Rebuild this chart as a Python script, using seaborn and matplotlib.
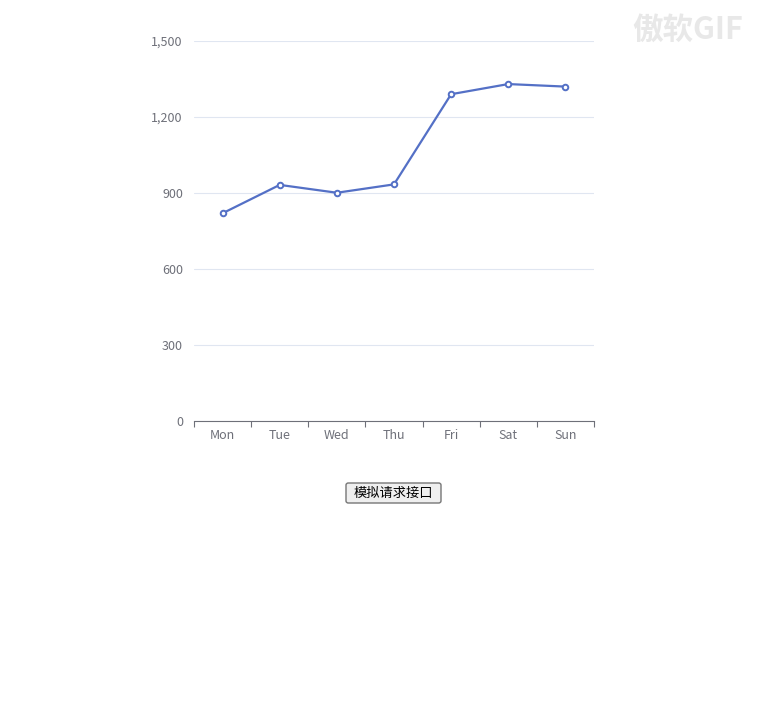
import matplotlib
matplotlib.use("Agg")
import matplotlib.pyplot as plt
import seaborn as sns
import pandas as pd
from matplotlib.patches import FancyBboxPatch

days = ["Mon", "Tue", "Wed", "Thu", "Fri", "Sat", "Sun"]
values = [820, 932, 901, 934, 1290, 1330, 1320]
yticks = [0, 300, 600, 900, 1200, 1500]
ytick_labels = ["0", "300", "600", "900", "1,200", "1,500"]

sns.set_style("white")
plt.rcParams['font.family'] = ['Noto Sans CJK SC', 'DejaVu Sans']

fig = plt.figure(figsize=(7.77, 7.04), dpi=100)
ax = fig.add_axes([194/777, 283/704, 400/777, 380/704])
df = pd.DataFrame({"day": days, "value": values})
x = [i + 0.5 for i in range(len(days))]
sns.lineplot(x=x, y=df["value"], ax=ax, color="#5470c6", linewidth=1.6,
             marker="o", markersize=4, markerfacecolor="white",
             markeredgecolor="#5470c6", markeredgewidth=1.4)
ax.set_xlim(0, 7)
ax.set_ylim(0, 1500)
ax.set_yticks(yticks)
ax.set_yticklabels(ytick_labels, color="#6e7079", fontsize=9)
ax.set_xticks(x)
ax.set_xticklabels(days, color="#6e7079", fontsize=9)
ax.set_xticks(range(8), minor=True)
ax.tick_params(axis="x", which="major", length=0, pad=6)
ax.tick_params(axis="x", which="minor", length=4, width=0.8, color="#6e7079",
               direction="out", bottom=True)
ax.tick_params(axis="y", length=0, pad=8)
ax.grid(axis="y", color="#e0e6f1", linewidth=0.8)
ax.set_axisbelow(True)
for s in ["top", "right", "left"]:
    ax.spines[s].set_visible(False)
ax.spines["bottom"].set_color("#6e7079")
ax.set_xlabel("")
ax.set_ylabel("")

btn = FancyBboxPatch((346/777, 1-503/704), 95/777, 20/704,
                     boxstyle="round,pad=0,rounding_size=0.003",
                     transform=fig.transFigure, facecolor="#efefef",
                     edgecolor="#767676", linewidth=1)
fig.patches.append(btn)
fig.text(393.5/777, 1-493/704, "模拟请求接口", ha="center", va="center",
         fontsize=9.5, color="black")
fig.text(688/777, 1-30/704, "傲软GIF", ha="center", va="center",
         fontsize=22, color="#e8e8e8", style="italic", weight="bold")

fig.savefig("out.png", dpi=100)
